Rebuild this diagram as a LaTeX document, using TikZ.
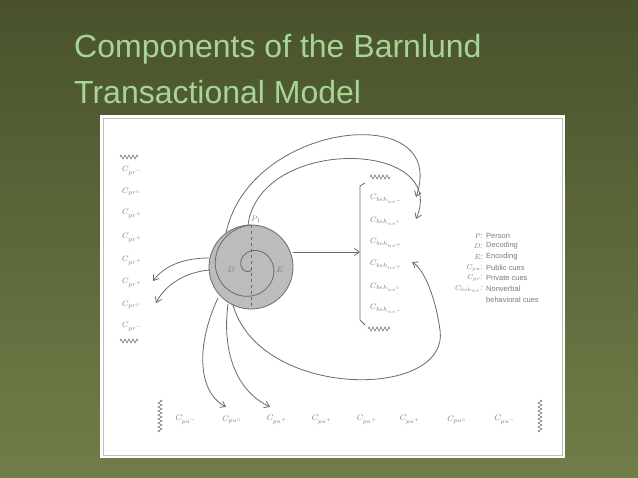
\documentclass[tikz,border=0pt]{standalone}
\usepackage{fontspec}
\setmainfont{Liberation Sans}
\usetikzlibrary{arrows.meta,decorations.pathmorphing}
\definecolor{bgA}{HTML}{3F4726}
\definecolor{bgB}{HTML}{717E48}
\definecolor{ttl}{HTML}{A6D596}
\definecolor{ink}{HTML}{6A6A6A}
\definecolor{txt}{HTML}{7A7A7A}
\begin{document}
\begin{tikzpicture}[x=1pt,y=-1pt,
  lab/.style={text=txt,font=\fontsize{8}{9}\selectfont\itshape,inner sep=0pt},
  leg/.style={text=txt,font=\fontsize{7.5}{8}\selectfont,inner sep=0pt},
  ln/.style={draw=ink,line width=0.8pt},
  arr/.style={ln,-{Straight Barb[length=5pt,width=7pt]}},
  zz/.style={ln,line width=0.6pt,decorate,decoration={zigzag,segment length=4pt,amplitude=2pt}}]
\useasboundingbox (0,0) rectangle (638,478);
\shade[left color=bgA,right color=bgB,shading angle=0] (0,0) rectangle (638,478);
\shade[top color=bgA!60!bgB,bottom color=bgB,opacity=0.5] (0,0) rectangle (638,478);
\node[anchor=base west,text=ttl,font=\fontsize{32}{34}\selectfont,inner sep=0pt] (t1) at (74,58) {Components of the Barnlund};
\node[anchor=base west,text=ttl,font=\fontsize{32}{34}\selectfont,inner sep=0pt] (t2) at (74,104) {Transactional Model};
\fill[white] (100,115) rectangle (565,458);
\draw[gray!50,line width=0.8pt] (103,118) rectangle (562,455);
% person circle
\fill[ink!45] (251,267) circle (42);
\draw[ln] (251,267) circle (42);
\node (P) at (251,267) {};
\draw[ln,dashed] (251,225) -- (251,309);
\draw[ln,domain=90:630,samples=120,smooth] plot ({251+(3+(\x-90)/540*39)*cos(\x)},{267-(3+(\x-90)/540*39)*sin(\x)*-1});
\node[lab] (p1) at (256,219) {$P_1$};
\node[lab] (d) at (231,270) {$D$};
\node[lab] (e) at (280,270) {$E$};
% left private cues
\draw[zz] (120,157) -- (138,157);
\foreach \s/\y [count=\i] in {-/171,\circ/192,+/214,+/238,+/261,+/283,\circ/305,-/327}
  \node[lab,anchor=west] (cpr\i) at (122,\y) {$C_{pr^{\s}}$};
\draw[zz] (120,341) -- (138,341);
% right behavioural cues
\draw[ln] (365,183) -- (360,186) -- (360,320) -- (365,325);
\draw[zz] (370,177) -- (390,177);
\foreach \s/\y [count=\i] in {-/199,\circ/221,+/243,+/265,\circ/287,-/309}
  \node[lab,anchor=west] (cb\i) at (370,\y) {$C_{beh_{nv^{\s}}}$};
\draw[zz] (368,329) -- (390,329);
% bottom public cues
\draw[zz] (160,400) -- (160,432);
\draw[zz] (540,400) -- (540,432);
\foreach \s/\x [count=\i] in {-/186,\circ/232,+/277,+/322,+/367,+/410,\circ/457,-/505}
  \node[lab] (cpu\i) at (\x,420) {$C_{pu^{\s}}$};
% arrows
\coordinate (rb) at (360,252);
\draw[arr] (P.center) ++(42,-15) -- (rb);
\draw[arr] (226,233) .. controls (250,120) and (450,100) .. (416,197);
\draw[arr] (248,225) .. controls (260,135) and (450,140) .. (416,219);
\draw[arr] (233,305) .. controls (260,400) and (450,400) .. (440,330) .. controls (436,300) and (425,270) .. (412,262);
\draw[arr] (209,258) .. controls (185,258) and (165,265) .. (153,281);
\draw[arr] (210,270) .. controls (185,272) and (165,285) .. (156,303);
\draw[arr] (218,298) .. controls (198,340) and (195,390) .. (226,407);
\draw[arr] (228,304) .. controls (222,350) and (235,390) .. (270,407);
% legend
\foreach \k/\v/\y in {{$P$}/Person/236,{$D$}/Decoding/246,{$E$}/Encoding/257,{$C_{pu}$}/Public cues/268,{$C_{pr}$}/Private cues/278,{$C_{beh_{nv}}$}/Nonverbal/289}
  {\node[leg,anchor=east,font=\fontsize{7.5}{8}\selectfont\itshape] at (483,\y) {\k:};
   \node[leg,anchor=west] at (486,\y) {\v};}
\node[leg,anchor=west] (lg) at (486,300) {behavioral cues};
\end{tikzpicture}
\end{document}
